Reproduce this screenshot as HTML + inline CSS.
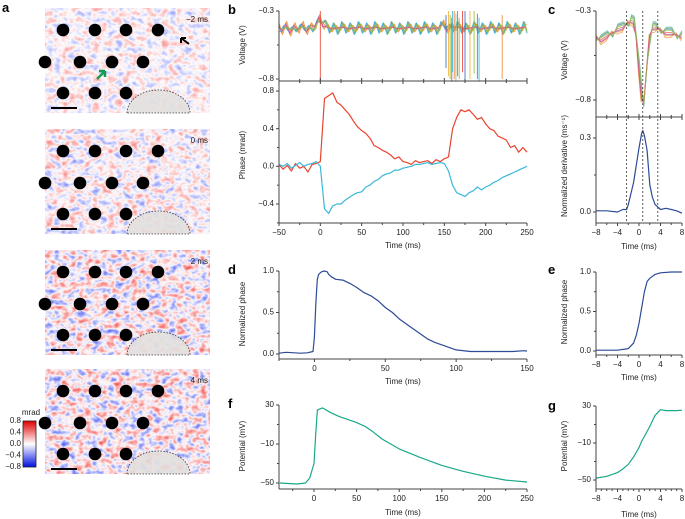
<!DOCTYPE html>
<html><head><meta charset="utf-8"><style>
html,body{margin:0;padding:0;background:#fff;}
svg{display:block;font-family:"Liberation Sans",sans-serif;}
text{font-size:8px;fill:#222;}
.lt{font-weight:bold;font-size:13px;fill:#000;}
</style></head><body>
<svg id="chart" width="685" height="519" viewBox="0 0 685 519" xmlns="http://www.w3.org/2000/svg">
<defs>
<linearGradient id="cbar" x1="0" y1="0" x2="0" y2="1">
<stop offset="0" stop-color="#e00000"/><stop offset="0.5" stop-color="#ffffff"/><stop offset="1" stop-color="#0010e0"/>
</linearGradient>
</defs>
</svg>
<script>
// ---------- data ----------
const phaseRed = [0.02,-0.03,0.01,-0.05,0.03,-0.02,0.0,-0.06,0.02,0.03,0.05,0.72,0.75,0.78,0.68,0.65,0.6,0.55,0.48,0.42,0.38,0.35,0.3,0.22,0.2,0.17,0.15,0.12,0.08,0.1,0.05,0.04,0.02,0.06,0.04,0.05,0.06,0.03,0.07,0.05,0.08,0.1,0.4,0.52,0.6,0.58,0.6,0.55,0.5,0.52,0.45,0.4,0.38,0.32,0.3,0.28,0.2,0.22,0.15,0.2,0.15];
const phaseCyan = [0.02,0.0,0.03,-0.02,0.01,0.04,0.0,0.02,0.03,0.05,0.0,-0.45,-0.5,-0.42,-0.4,-0.4,-0.36,-0.33,-0.3,-0.28,-0.27,-0.22,-0.2,-0.16,-0.14,-0.1,-0.08,-0.07,-0.04,-0.04,-0.02,-0.01,0.0,0.02,0.02,0.03,0.04,0.02,0.03,0.04,0.03,-0.05,-0.2,-0.28,-0.3,-0.32,-0.28,-0.26,-0.22,-0.25,-0.22,-0.2,-0.17,-0.15,-0.12,-0.1,-0.08,-0.06,-0.04,-0.02,0.0];
const vBase = [-0.42,-0.44,-0.41,-0.45,-0.42,-0.43,-0.41,-0.44,-0.42,-0.40,-0.36,-0.40,-0.43,-0.42,-0.44,-0.41,-0.43,-0.42,-0.44,-0.41,-0.43,-0.42,-0.44,-0.41,-0.43,-0.42,-0.44,-0.41,-0.43,-0.42,-0.44,-0.41,-0.43,-0.42,-0.44,-0.41,-0.43,-0.42,-0.44,-0.41,-0.40,-0.43,-0.42,-0.41,-0.43,-0.42,-0.44,-0.41,-0.43,-0.42,-0.44,-0.41,-0.43,-0.42,-0.44,-0.41,-0.43,-0.42,-0.44,-0.41,-0.43];
const traceOffsets = [0.0,0.03,-0.03,0.02,-0.02,0.035,-0.035,0.01,-0.01,0.025];
const spikeTimes = [0,152,155,157,159,160,162,164,166,168,172,175,181,186,190,192,220];
const spikeTops = [-0.3,-0.33,-0.3,-0.33,-0.35,-0.3,-0.3,-0.32,-0.3,-0.35,-0.3,-0.3,-0.3,-0.3,-0.32,-0.35,-0.33];
const spikeBottoms = [-0.83,-0.72,-0.78,-0.8,-0.82,-0.75,-0.8,-0.82,-0.78,-0.8,-0.75,-0.82,-0.8,-0.76,-0.8,-0.82,-0.8];
const palette = ['#e8442e','#3a6fc4','#f2b632','#8fbf3f','#9b59b6','#3bb8d8','#f08a3c','#7cc4a0','#d44f8a','#a0b83c'];

const cTimes = [-8,-7,-6,-5,-4,-3,-2,-1.5,-1,-0.5,0,0.5,0.8,1,1.5,2,2.5,3,4,5,6,7,8];
const cVolt = [-0.45,-0.46,-0.44,-0.43,-0.40,-0.39,-0.37,-0.35,-0.36,-0.45,-0.62,-0.78,-0.82,-0.78,-0.6,-0.45,-0.39,-0.39,-0.41,-0.42,-0.42,-0.44,-0.44];
const cOffsets = [0.0,0.02,-0.02,0.01,-0.01,0.03,-0.03,0.015,-0.015,0.025];
const cDerivTimes = [-8,-6,-4,-3,-2.3,-2,-1,0,0.5,0.7,1,1.5,2,2.5,3,4,5,6,7,8];
const cDeriv = [0.005,0.005,0.0,0.01,0.01,0.03,0.12,0.26,0.32,0.33,0.31,0.25,0.11,0.06,0.03,0.01,0.015,0.01,0.005,-0.005];
const cDashes = [-2.3,0.7,3.5];

const dTimes = [-25,-20,-10,-5,-1,0,1,2,3,5,7,9,10,12,15,20,25,30,35,40,45,50,55,60,65,70,75,80,85,90,95,100,110,120,130,140,148,150];
const dPhase = [0.01,0.02,0.01,0.015,0.03,0.2,0.6,0.9,0.96,0.99,1.0,0.99,0.96,0.93,0.9,0.89,0.85,0.8,0.74,0.7,0.64,0.56,0.5,0.42,0.36,0.3,0.24,0.18,0.14,0.11,0.08,0.05,0.03,0.03,0.03,0.03,0.04,0.035];
const eTimes = [-8,-4,-2,-1,-0.5,0,0.5,1,1.5,2,3,4,6,8];
const ePhase = [0.01,0.01,0.03,0.1,0.2,0.35,0.55,0.75,0.88,0.92,0.97,0.99,1.0,1.0];
const fTimes = [-40,-20,-10,-5,0,2,4,7,10,20,30,40,50,60,70,80,100,125,150,175,200,225,250];
const fPot = [-50,-51,-50,-45,-30,0,25,26,27,22,18,15,12,8,2,-5,-15,-24,-32,-38,-43,-47,-49];
const gTimes = [-8,-6,-4,-3,-2,-1,0,0.5,1,2,3,4,5,6,7,8];
const gPot = [-48,-46,-42,-38,-33,-25,-15,-8,-3,8,20,26,25,25,25,25.5];

// ---------- helpers ----------
const NS='http://www.w3.org/2000/svg';
const svg=document.getElementById('chart');
function mk(tag,attrs,parent){const e=document.createElementNS(NS,tag);for(const k in attrs)e.setAttribute(k,attrs[k]);(parent||svg).appendChild(e);return e;}
function lin(d0,d1,r0,r1){return v=>r0+(v-d0)*(r1-r0)/(d1-d0);}
function txt(s,x,y,anchor,extra){const t=mk('text',Object.assign({x:x,y:y,'text-anchor':anchor||'middle','dominant-baseline':'middle'},extra||{}));t.textContent=s;return t;}
function fmt(v,dec){return (v<0?'\u2212':'')+Math.abs(v).toFixed(dec);}
function yAxis(x,yTop,yBot,sc,major,dec,minor){
  const l=mk('line',{x1:x,y1:yTop,x2:x,y2:yBot,stroke:'#444','stroke-width':1});
  
  
  major.forEach(v=>{const y=sc(v);
    const tk=mk('line',{x1:x-3,y1:y,x2:x,y2:y,stroke:'#444'});
    
    
    const t=txt(fmt(v,dec),x-5,y,'end');
    
    });
  (minor||[]).forEach(v=>{const y=sc(v);const tk=mk('line',{x1:x-2,y1:y,x2:x,y2:y,stroke:'#444'});
    
    });
}
function xAxis(y,x0,x1,sc,major,minor,labels,up){
  const l=mk('line',{x1:x0,y1:y,x2:x1,y2:y,stroke:'#444'});
  
  
  major.forEach(v=>{const x=sc(v);const tk=mk('line',{x1:x,y1:y-(up?3:0),x2:x,y2:y+3,stroke:'#444'});
    
    
    if(labels){const t=txt(fmt(v,0),x,y+10);
    
    }});
  (minor||[]).forEach(v=>{const x=sc(v);const tk=mk('line',{x1:x,y1:y-(up?2:0),x2:x,y2:y+2,stroke:'#444'});
    
    });
}
function path(xs,ys,sx,sy,color,w,op){
  let d='';for(let i=0;i<Math.min(xs.length,ys.length);i++)d+=(i?'L':'M')+sx(xs[i]).toFixed(1)+','+sy(ys[i]).toFixed(1);
  return mk('path',{d:d,fill:'none',stroke:color,'stroke-width':w||1.2,'stroke-linejoin':'round',opacity:op||1});
}
function vlabel(s,x,y){const t=txt(s,x,y,'middle',{transform:'rotate(-90 '+x+' '+y+')'});return t;}
function letter(s,x,y){const t=mk('text',{x:x,y:y,class:'lt'});t.textContent=s;return t;}

// ---------- panel a ----------
const la=letter('a',2,12);


const defs=svg.querySelector('defs');
const frames=[{y:8,label:'\u22122 ms',amp:0.32,seed:3},{y:129,label:'0 ms',amp:0.42,seed:7},{y:250,label:'2 ms',amp:0.55,seed:11},{y:369,label:'4 ms',amp:0.58,seed:19}];
frames.forEach((f,i)=>{
  const flt=mk('filter',{id:'nz'+i,x:0,y:0,width:1,height:1,'color-interpolation-filters':'sRGB'},defs);
  mk('feTurbulence',{type:'fractalNoise',baseFrequency:'0.13 0.17',numOctaves:2,seed:f.seed,result:'n'},flt);
  mk('feColorMatrix',{in:'n',type:'matrix',values:'0 0 0 0 0.95 0 0 0 0 0.25 0 0 0 0 0.25 '+(4*f.amp)+' 0 0 0 '+(-1.9*f.amp),result:'r'},flt);
  mk('feColorMatrix',{in:'n',type:'matrix',values:'0 0 0 0 0.25 0 0 0 0 0.3 0 0 0 0 0.95 '+(-4*f.amp)+' 0 0 0 '+(2.0*f.amp),result:'b'},flt);
  mk('feMerge',{},flt).innerHTML='<feMergeNode in="r"/><feMergeNode in="b"/>';
  const g=mk('g',{});
  
  
  mk('rect',{x:45,y:f.y,width:165,height:105,fill:'#fff'},g);
  mk('rect',{x:45,y:f.y,width:165,height:105,fill:'#fff',filter:'url(#nz'+i+')'},g);
  const rows=[[63,95,126,158],[45,80,112,143],[63,95,126]];const ry=[22,54,85];
  const hemi=mk('path',{d:'M127,'+(f.y+105)+' A31.5,23 0 0 1 190,'+(f.y+105)+' Z',fill:'#e3e1df',stroke:'#222','stroke-width':0.8,'stroke-dasharray':'1.5,1.5',opacity:0.9},g);
  
  
  rows.forEach((r,j)=>r.forEach(x=>{const c=mk('circle',{cx:x,cy:f.y+ry[j],r:6.3,fill:'#000'},g);
    
    }));
  const sb=mk('line',{x1:51,y1:f.y+100,x2:77,y2:f.y+100,stroke:'#000','stroke-width':2},g);
  
  
  const t=txt(f.label,208,f.y+12,'end');
  
  
});
const ab=mk('path',{d:'M181,38 L189,44 M181,38 l0,5 M181,38 l5,0',stroke:'#000','stroke-width':2,fill:'none'});


const ag=mk('path',{d:'M97,79 L105,71 M105,71 l-6,0 M105,71 l0,6',stroke:'#1a9a50','stroke-width':2.4,fill:'none'});


const cb=mk('rect',{x:23,y:421,width:13,height:46,fill:'url(#cbar)',stroke:'#222','stroke-width':0.8});


const cbVals=[0.8,0.4,0.0,-0.4,-0.8];
cbVals.forEach(v=>{const y=421+(0.8-v)/1.6*46;const t=txt(fmt(v,1),21,y,'end');
  
  });
const mr=txt('mrad',31,413);



// ---------- panel b ----------
const lb=letter('b',228,14);


const xb=lin(-50,250,279,527), yv=lin(-0.3,-0.8,11,79), yp=lin(0.8,-0.4,91,204);
const vTimes=vBase.map((_,i)=>-50+i*5);
const tShift=[0,1.5,-1.2,2.2,-2,0.8,-0.6,1.1,-1.7,2.6];
traceOffsets.forEach((o,k)=>{
  const p=path(vTimes.map(t=>Math.min(250,Math.max(-50,t+tShift[k]))),vBase.map((v,i)=>v+o*(i%2?1:-1)),xb,yv,palette[k],0.8,0.85);
  
  
});
spikeTimes.forEach((t,k)=>{
  const l=mk('line',{x1:xb(t),y1:yv(spikeTops[k]),x2:xb(t),y2:yv(spikeBottoms[k]),stroke:palette[k%palette.length],'stroke-width':1,opacity:0.85});
  
  
});
const tb=phaseRed.map((_,i)=>-50+i*5);
const pr=path(tb,phaseRed,xb,yp,'#e8442e',1.2);


const pc=path(tb,phaseCyan,xb,yp,'#3bb8d8',1.2);


yAxis(279,11,223,yv,[-0.3,-0.8],1,[-0.55]);
yAxis(279,81,223,yp,[0.8,0.4,0.0,-0.4],1,[0.6,0.2,-0.2,-0.6]);
xAxis(81,279,527,xb,[-50,0,50,100,150,200,250],[-25,25,75,125,175,225],false,true);
xAxis(223,279,527,xb,[-50,0,50,100,150,200,250],[-25,25,75,125,175,225],true);
let t;
t=vlabel('Voltage (V)',243,45);
t=vlabel('Phase (mrad)',243,155);
t=txt('Time (ms)',403,246);

// ---------- panel c ----------
const lc=letter('c',548,14);


const xc=lin(-8,8,596,682), yc=lin(-0.3,-0.8,11,100), ycd=lin(0.0,0.3,212,138);
cOffsets.forEach((o,k)=>{
  const p=path(cTimes.map(x=>Math.max(-8,Math.min(8,x+o*4))),cVolt.map((v,i)=>v+o*(i%3?1:-0.6)),xc,yc,palette[k],0.8,0.75);
  
  
});
const cd=path(cDerivTimes,cDeriv,xc,ycd,'#2d4b97',1.2);


cDashes.forEach(v=>{const l=mk('line',{x1:xc(v),y1:11,x2:xc(v),y2:223,stroke:'#333','stroke-width':0.8,'stroke-dasharray':'2,2'});
  
  });
yAxis(596,11,223,yc,[-0.3,-0.8],1,[-0.55]);
yAxis(596,117,223,ycd,[0.3,0.0],1,[0.15]);
xAxis(117,596,682,xc,[-8,-4,0,4,8],[-6,-2,2,6],false,true);
xAxis(223,596,682,xc,[-8,-4,0,4,8],[-6,-2,2,6],true);
t=vlabel('Voltage (V)',565,60);
t=vlabel('Normalized derivative (ms\u207B\u00B9)',565,166);
t=txt('Time (ms)',639,247);

// ---------- panel d ----------
const ld=letter('d',228,274);


const xd=lin(-25,150,279,527), yd=lin(0,1,354,271);
const dp=path(dTimes,dPhase,xd,yd,'#2d4b97',1.2);


yAxis(279,271,359,yd,[1.0,0.5,0.0],1,[0.75,0.25]);
xAxis(359,279,527,xd,[0,50,100,150],[-25,25,75,125],true);
t=vlabel('Normalized phase',243,314);
t=txt('Time (ms)',403,382);

// ---------- panel e ----------
const le=letter('e',548,274);


const xe=lin(-8,8,596,682), ye=lin(0,1,351,272);
const ep=path(eTimes,ePhase,xe,ye,'#2d4b97',1.2);


yAxis(596,272,355,ye,[1.0,0.5,0.0],1,[0.75,0.25]);
xAxis(355,596,682,xe,[-8,-4,0,4,8],[-6,-2,2,6],true);
t=vlabel('Normalized phase',565,312);
t=txt('Time (ms)',639,378);

// ---------- panel f ----------
const lf=letter('f',228,408);


const xf=lin(0,250,314,527), yf=lin(30,-50,405,483);
const fp=path(fTimes,fPot,xf,yf,'#1aa88a',1.2);


yAxis(279,405,489,yf,[30,-10,-50],0,[10,-30]);
xAxis(489,279,527,xf,[0,50,100,150,200,250],[-25,25,75,125,175,225],true);
t=vlabel('Potential (mV)',243,446);
t=txt('Time (ms)',403,513);

// ---------- panel g ----------
const lg=letter('g',548,410);


const xg=lin(-8,8,596,682), yg=lin(30,-50,406,480);
const gp=path(gTimes,gPot,xg,yg,'#1aa88a',1.2);


yAxis(596,406,489,yg,[30,-10,-50],0,[10,-30]);
xAxis(489,596,682,xg,[-8,-4,0,4,8],[-7,-6,-5,-3,-2,-1,1,2,3,5,6,7],true);
t=vlabel('Potential (mV)',565,446);
t=txt('Time (ms)',639,515);
</script>
</body></html>
